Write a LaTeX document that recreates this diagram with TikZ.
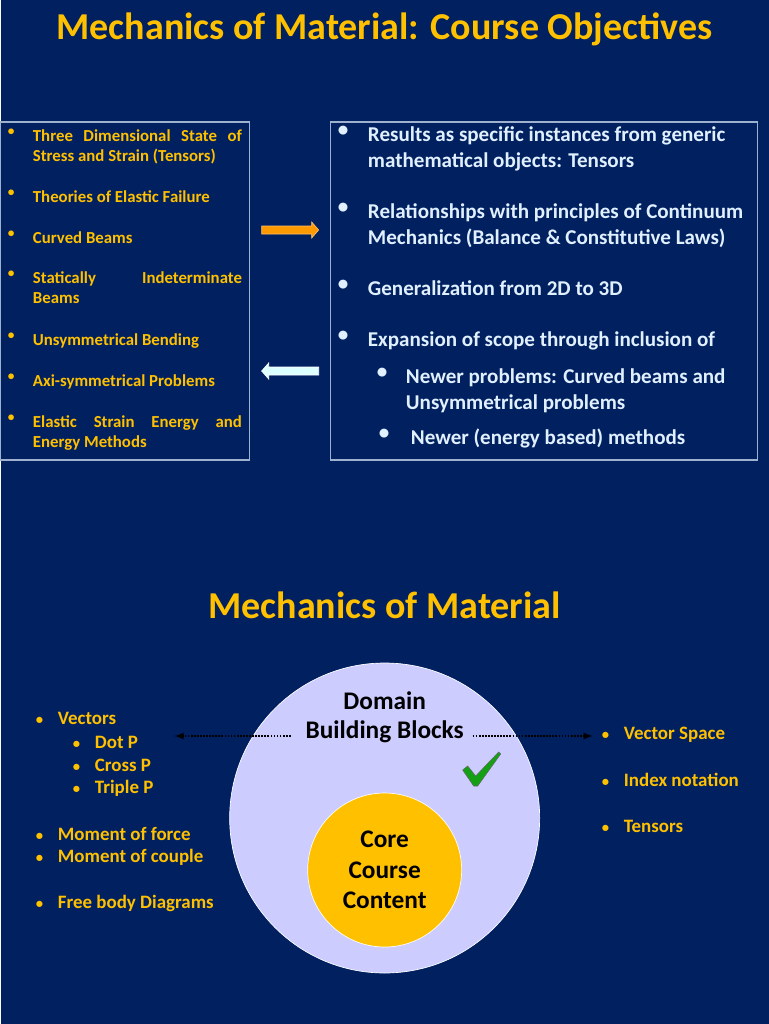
\documentclass[tikz,border=0pt]{standalone}
\usepackage{fontspec}
\setmainfont{Carlito}
\begin{document}
\begin{tikzpicture}[x=0.75pt,y=-0.75pt,
 ltxt/.style={anchor=north west,text width=209*0.75pt,align=justify,inner sep=0pt,font=\bfseries\fontsize{12.6}{15.3}\selectfont,text=yel},
 lbul/.style={anchor=north west,inner sep=0pt,font=\bfseries\fontsize{10}{15.3}\selectfont,text=yel},
 rtxt/.style={anchor=north west,inner sep=0pt,align=left,font=\bfseries\fontsize{15.8}{19.5}\selectfont,text=lt},
 btxt/.style={anchor=west,inner sep=0pt,font=\bfseries\fontsize{14.2}{14}\selectfont,text=yel},
 ttl/.style={font=\bfseries\fontsize{28.5}{30}\selectfont,text=yel}]
\definecolor{bg}{RGB}{0,32,96}
\definecolor{yel}{RGB}{255,192,0}
\definecolor{lt}{RGB}{225,240,255}
\definecolor{lav}{RGB}{204,204,255}
\definecolor{orn}{RGB}{255,153,0}
\definecolor{cy}{RGB}{220,255,255}
\definecolor{grn}{RGB}{20,160,20}
\fill[bg] (0,0) rectangle (768,1024);
\node[ttl] (t1) at (384,29) {Mechanics of Material: Course Objectives};
\draw[lt!70!bg,line width=1pt] (0,122) rectangle (249,460);
\draw[lt!70!bg,line width=1pt] (330,122) rectangle (757,460);
% left list
\foreach \y/\t [count=\i] in {129/{Three Dimensional State of\linebreak Stress and Strain (Tensors)},190/{Theories of Elastic Failure},231/{Curved Beams},271/{Statically \hfill Indeterminate\linebreak Beams},333/{Unsymmetrical Bending},374/{Axi-symmetrical Problems},415/{Elastic Strain Energy and\linebreak Energy Methods}}{
 \node[lbul] (lb\i) at (7,\y) {•};
 \node[ltxt] (lt\i) at (32,\y) {\t};
}
% right list
\node[rtxt] (rb1) at (337,126) {•};
\node[rtxt] (r1) at (367,126) {Results as specific instances from generic\\mathematical objects: Tensors};
\node[rtxt] (rb2) at (337,203) {•};
\node[rtxt] (r2) at (367,203) {Relationships with principles of Continuum\\Mechanics (Balance \& Constitutive Laws)};
\node[rtxt] (rb3) at (337,280) {•};
\node[rtxt] (r3) at (367,280) {Generalization from 2D to 3D};
\node[rtxt] (rb4) at (337,331) {•};
\node[rtxt] (r4) at (367,331) {Expansion of scope through inclusion of};
\node[rtxt] (rb5) at (376,368) {•};
\node[rtxt] (r5) at (405,368) {Newer problems: Curved beams and\\Unsymmetrical problems};
\node[rtxt] (rb6) at (378,429) {•};
\node[rtxt] (r6) at (410,429) {Newer (energy based) methods};
% arrows
\fill[orn,draw=orn!60!white,line width=0.5pt] (261,226)--(311,226)--(311,222)--(318,230)--(311,238)--(311,234)--(261,234)--cycle;
\fill[cy,draw=white,line width=0.5pt] (318,367)--(268,367)--(268,363)--(261,371)--(268,379)--(268,375)--(318,375)--cycle;
% bottom
\node[ttl] (t2) at (384,605) {Mechanics of Material};
\fill[lav,draw=white,line width=0.5pt] (384,818) circle (155);
\fill[yel,draw=white,line width=0.5pt] (384,870) circle (77);
\node[align=center,font=\bfseries\fontsize{19}{23}\selectfont,text=black] (core) at (384,870) {Core\\Course\\Content};
\node[font=\bfseries\fontsize{19}{20}\selectfont,text=black] (dom) at (384,701) {Domain};
\node[font=\bfseries\fontsize{19}{20}\selectfont,text=black,inner sep=2pt] (bb) at (384,732) {Building Blocks};
\coordinate (la) at (174,736);
\coordinate (ra) at (592,736);
\coordinate (ls) at (290,736);
\coordinate (rs) at (472,736);
\draw[black,densely dotted,line width=1.3pt,-latex] (ls) -- (la);
\draw[black,densely dotted,line width=1.3pt,-latex] (rs) -- (ra);
\fill[grn,draw=black!60,line width=0.4pt] (462,770)--(467,766)--(475,776)--(498,752)--(500,754)--(477,786)--(473,786)--cycle;
% left bottom list
\foreach \x/\y/\t [count=\i] in {35/718/Vectors,72/742/Dot P,72/765/Cross P,72/788/Triple P,35/834/Moment of force,35/857/Moment of couple,35/903/Free body Diagrams}{
 \node[btxt] (bl\i) at (\x,\y) {{\fontsize{11}{14}\selectfont•}\hspace{11pt}\t};
}
\foreach \y/\t [count=\i] in {735/Vector Space,780/Index notation,826/Tensors}{
 \node[btxt] (br\i) at (601,\y) {{\fontsize{11}{14}\selectfont•}\hspace{11pt}\t};
}
\end{tikzpicture}
\end{document}
